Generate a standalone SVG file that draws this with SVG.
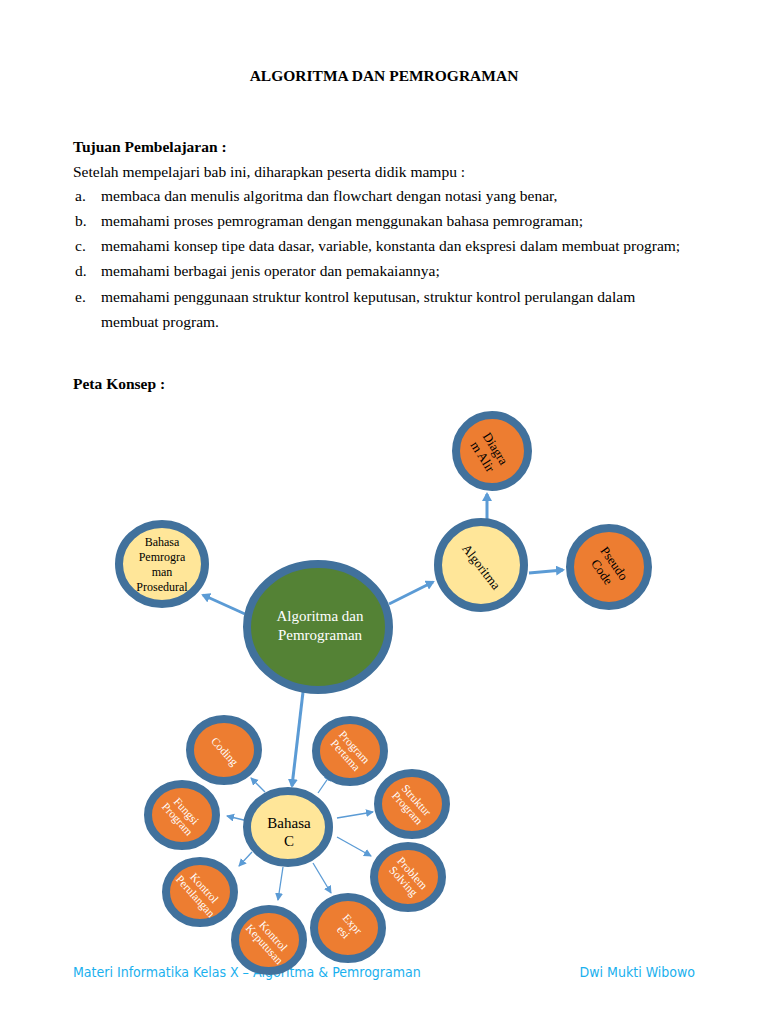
<svg xmlns="http://www.w3.org/2000/svg" width="768" height="1024" viewBox="0 0 768 1024">
<style>
.t{font-family:"Liberation Serif","Times New Roman",serif;font-size:15.5px;fill:#000}
.b{font-weight:bold}
.ft{font-family:"DejaVu Sans Condensed","Liberation Sans",sans-serif;font-size:14px;fill:#1AB0EE}
.ring{stroke:#41719C;stroke-width:8}
.or{fill:#ED7D31}
.ye{fill:#FFE699}
.gr{fill:#548235}
.lb{font-family:"Liberation Serif","Times New Roman",serif;text-anchor:middle}
.w{fill:#fff}
.k{fill:#000}
.c1{stroke:#5B9BD5;stroke-width:3;fill:none}
.c2{stroke:#5B9BD5;stroke-width:1.3;fill:none}
</style>
<defs>
<marker id="ah" markerWidth="10" markerHeight="10" refX="7" refY="5" orient="auto" markerUnits="userSpaceOnUse"><path d="M0,0 L9,5 L0,10 z" fill="#5B9BD5"/></marker>
<marker id="ah2" markerWidth="10" markerHeight="10" refX="7" refY="4" orient="auto" markerUnits="userSpaceOnUse"><path d="M0,0 L8,4 L0,8 z" fill="#5B9BD5"/></marker>
</defs>
<rect width="768" height="1024" fill="#fff"/>
<text class="t b" x="384" y="81" text-anchor="middle">ALGORITMA DAN PEMROGRAMAN</text>
<text class="t b" x="73" y="152">Tujuan Pembelajaran :</text>
<text class="t" x="73" y="177">Setelah mempelajari bab ini, diharapkan peserta didik mampu :</text>
<text class="t" x="75" y="201">a.</text><text class="t" x="101" y="201">membaca dan menulis algoritma dan flowchart dengan notasi yang benar,</text>
<text class="t" x="75" y="226">b.</text><text class="t" x="101" y="226">memahami proses pemrograman dengan menggunakan bahasa pemrograman;</text>
<text class="t" x="75" y="251">c.</text><text class="t" x="101" y="251">memahami konsep tipe data dasar, variable, konstanta dan ekspresi dalam membuat program;</text>
<text class="t" x="75" y="276">d.</text><text class="t" x="101" y="276">memahami berbagai jenis operator dan pemakaiannya;</text>
<text class="t" x="75" y="302">e.</text><text class="t" x="101" y="302">memahami penggunaan struktur kontrol keputusan, struktur kontrol perulangan dalam</text>
<text class="t" x="101" y="327">membuat program.</text>
<text class="t b" x="73" y="389">Peta Konsep :</text>
<text class="ft" x="73" y="977">Materi Informatika Kelas X – Algoritma &amp; Pemrograman</text>
<text class="ft" x="695" y="977" text-anchor="end">Dwi Mukti Wibowo</text>
<g id="connectors">
<line class="c1" x1="245" y1="614" x2="203" y2="595" marker-end="url(#ah)"/>
<line class="c1" x1="389" y1="604" x2="433" y2="582" marker-end="url(#ah)"/>
<line class="c1" x1="487" y1="520" x2="487" y2="494" marker-end="url(#ah)"/>
<line class="c1" x1="529" y1="573" x2="563" y2="570" marker-end="url(#ah)"/>
<line class="c1" x1="303" y1="692" x2="292" y2="786" marker-end="url(#ah)"/>
<line class="c2" x1="265" y1="792" x2="251" y2="778" marker-end="url(#ah2)"/>
<line class="c2" x1="318" y1="793" x2="331" y2="774" marker-end="url(#ah2)"/>
<line class="c2" x1="337" y1="818" x2="373" y2="812" marker-end="url(#ah2)"/>
<line class="c2" x1="337" y1="837" x2="371" y2="856" marker-end="url(#ah2)"/>
<line class="c2" x1="313" y1="863" x2="331" y2="893" marker-end="url(#ah2)"/>
<line class="c2" x1="283" y1="867" x2="278" y2="900" marker-end="url(#ah2)"/>
<line class="c2" x1="252" y1="852" x2="239" y2="866" marker-end="url(#ah2)"/>
<line class="c2" x1="252" y1="822" x2="227" y2="816" marker-end="url(#ah2)"/>
</g>
<g id="n-main"><ellipse class="ring gr" cx="318" cy="627" rx="71" ry="63"/>
<text class="lb w" font-size="15" x="320" y="621">Algoritma dan</text><text class="lb w" font-size="15" x="320" y="640">Pemrograman</text></g>
<g id="n-prosedural"><ellipse class="ring ye" cx="162" cy="564" rx="43" ry="40"/>
<g class="lb k" font-size="12"><text x="162" y="546">Bahasa</text><text x="162" y="561">Pemrogra</text><text x="162" y="576">man</text><text x="162" y="591">Prosedural</text></g></g>
<g id="n-algoritma"><circle class="ring ye" cx="481" cy="565" r="43"/>
<text class="lb k" font-size="13" transform="translate(481,567) rotate(52)" y="4">Algoritma</text></g>
<g id="n-diagram"><circle class="ring or" cx="492" cy="451" r="36"/>
<g class="lb k" font-size="13" transform="translate(490,452) rotate(58)"><text x="0" y="-2">Diagra</text><text x="0" y="13">m Alir</text></g></g>
<g id="n-pseudo"><circle class="ring or" cx="609" cy="567" r="39"/>
<g class="lb k" font-size="13" transform="translate(609,567) rotate(55)"><text x="0" y="-2">Pseudo</text><text x="0" y="13">Code</text></g></g>
<g id="n-bahasac"><ellipse class="ring ye" cx="288" cy="827" rx="41" ry="36"/>
<g class="lb k" font-size="15"><text x="289" y="828">Bahasa</text><text x="289" y="846">C</text></g></g>
<g id="n-coding"><ellipse class="ring or" cx="224" cy="750" rx="34" ry="31"/>
<text class="lb w" font-size="11.5" transform="translate(224,752) rotate(48)" y="3">Coding</text></g>
<g id="n-pertama"><ellipse class="ring or" cx="350" cy="751" rx="34" ry="31"/>
<g class="lb w" font-size="11.5" transform="translate(350,751) rotate(48)"><text y="-2">Program</text><text y="10">Pertama</text></g></g>
<g id="n-struktur"><ellipse class="ring or" cx="412" cy="804" rx="34" ry="31"/>
<g class="lb w" font-size="11.5" transform="translate(412,804) rotate(48)"><text y="-2">Struktur</text><text y="10">Program</text></g></g>
<g id="n-fungsi"><ellipse class="ring or" cx="182" cy="815" rx="34" ry="31"/>
<g class="lb w" font-size="11.5" transform="translate(182,815) rotate(48)"><text y="-2">Fungsi</text><text y="10">Program</text></g></g>
<g id="n-problem"><ellipse class="ring or" cx="408" cy="877" rx="34" ry="31"/>
<g class="lb w" font-size="11.5" transform="translate(408,877) rotate(48)"><text y="-2">Problem</text><text y="10">Solving</text></g></g>
<g id="n-perulangan"><ellipse class="ring or" cx="200" cy="892" rx="34" ry="31"/>
<g class="lb w" font-size="11.5" transform="translate(200,892) rotate(48)"><text y="-2">Kontrol</text><text y="10">Perulangan</text></g></g>
<g id="n-keputusan"><ellipse class="ring or" cx="269" cy="940" rx="34" ry="31"/>
<g class="lb w" font-size="11.5" transform="translate(269,940) rotate(48)"><text y="-2">Kontrol</text><text y="10">Keputusan</text></g></g>
<g id="n-ekspresi"><ellipse class="ring or" cx="348" cy="928" rx="34" ry="31"/>
<g class="lb w" font-size="11.5" transform="translate(348,928) rotate(48)"><text y="-2">Expr</text><text y="10">esi</text></g></g>
</svg>
